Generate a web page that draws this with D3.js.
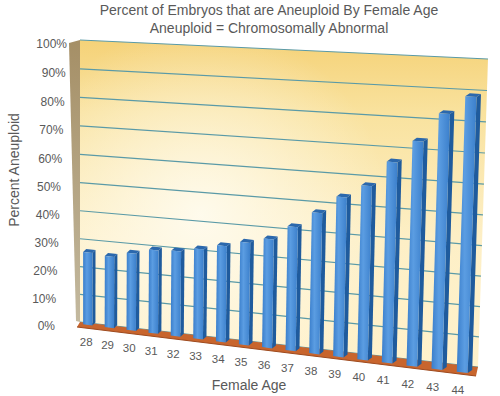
<!DOCTYPE html>
<html>
<head>
<meta charset="utf-8">
<script src="https://cdn.jsdelivr.net/npm/d3@7"></script>
<style>
  html, body { margin: 0; padding: 0; background: #fff; }
  text { font-family: "Liberation Sans", Arial, sans-serif; fill: #595959; }
</style>
</head>
<body>
<svg id="chart" width="500" height="396"></svg>
<script>
const ages = ['28', '29', '30', '31', '32', '33', '34', '35', '36', '37', '38', '39', '40', '41', '42', '43', '44'];
const aneuploidPct = [26, 25.5, 27.5, 29.5, 30, 31.5, 33.5, 35.5, 37.5, 42.5, 48, 54, 58.5, 67, 74.5, 84, 90];
const yTicks = [0, 10, 20, 30, 40, 50, 60, 70, 80, 90, 100];
const title = 'Percent of Embryos that are Aneuploid By Female Age';
const subtitle = 'Aneuploid = Chromosomally Abnormal';
const xTitle = 'Female Age';
const yTitle = 'Percent Aneuploid';

// back wall as seen in perspective: bottom-left, bottom-right, top-right, top-left
const wall = [[80, 322], [478, 367], [488, 59], [80, 40]];

// unit square -> quad (projective), so the far left is foreshortened
function squareToQuad([[x0, y0], [x1, y1], [x2, y2], [x3, y3]]) {
  const dx1 = x1 - x2, dx2 = x3 - x2, dx3 = x0 - x1 + x2 - x3;
  const dy1 = y1 - y2, dy2 = y3 - y2, dy3 = y0 - y1 + y2 - y3;
  const den = dx1 * dy2 - dx2 * dy1;
  const g = (dx3 * dy2 - dx2 * dy3) / den;
  const h = (dx1 * dy3 - dx3 * dy1) / den;
  const a = x1 - x0 + g * x1, b = x3 - x0 + h * x3, c = x0;
  const d = y1 - y0 + g * y1, e = y3 - y0 + h * y3, f = y0;
  return (u, v) => {
    const w = g * u + h * v + 1;
    return [(a * u + b * v + c) / w, (d * u + e * v + f) / w];
  };
}
const wallAt = squareToQuad(wall);

const x = d3.scaleBand().domain(ages).range([0, 1]).paddingInner(0.57).paddingOuter(0.285);
const y = d3.scaleLinear().domain([0, 100]).range([0, 1]);

// bar fronts sit a little in front of the wall
const front = (u, v) => { const p = wallAt(u, v); return [p[0] - 3, p[1] + 1.5 + 5.5 * u]; };
const depth = u => [3 + 1.5 * u, -3];
const add = (p, q) => [p[0] + q[0], p[1] + q[1]];

const svg = d3.select('#chart');
const defs = svg.append('defs');

const wallGrad = defs.append('linearGradient').attr('id', 'wallGrad')
  .attr('gradientUnits', 'userSpaceOnUse').attr('x1', 0).attr('y1', 40).attr('x2', 0).attr('y2', 370);
wallGrad.append('stop').attr('offset', 0).attr('stop-color', '#f5d278');
wallGrad.append('stop').attr('offset', 0.22).attr('stop-color', '#f9e29e');
wallGrad.append('stop').attr('offset', 0.6).attr('stop-color', '#fdefc6');
wallGrad.append('stop').attr('offset', 1).attr('stop-color', '#fff2cc');

const glow = defs.append('radialGradient').attr('id', 'glow')
  .attr('gradientUnits', 'userSpaceOnUse').attr('cx', 200).attr('cy', 215).attr('r', 190);
glow.append('stop').attr('offset', 0).attr('stop-color', '#fffdf4').attr('stop-opacity', 0.85);
glow.append('stop').attr('offset', 1).attr('stop-color', '#fffdf4').attr('stop-opacity', 0);

const sideGrad = defs.append('linearGradient').attr('id', 'sideGrad').attr('x1', 0).attr('y1', 0).attr('x2', 0).attr('y2', 1);
sideGrad.append('stop').attr('offset', 0).attr('stop-color', '#a58f66');
sideGrad.append('stop').attr('offset', 1).attr('stop-color', '#c3b99f');

const barGrad = defs.append('linearGradient').attr('id', 'barGrad').attr('x1', 0).attr('y1', 0).attr('x2', 1).attr('y2', 0);
barGrad.append('stop').attr('offset', 0).attr('stop-color', '#3a7ecb');
barGrad.append('stop').attr('offset', 0.4).attr('stop-color', '#5b9de2');
barGrad.append('stop').attr('offset', 1).attr('stop-color', '#3b7fcb');

const poly = pts => 'M' + pts.map(p => p.join(',')).join('L') + 'Z';

// side wall strip and back wall
svg.append('path')
  .attr('d', poly([add(wall[3], [-11, 3]), wall[3], wall[0], add(wall[0], [-4, -1])]))
  .attr('fill', 'url(#sideGrad)');
svg.append('path').attr('d', poly(wall)).attr('fill', 'url(#wallGrad)');
svg.append('path').attr('d', poly(wall)).attr('fill', 'url(#glow)');

svg.append('g').selectAll('line').data(yTicks).join('line')
  .attr('x1', d => wallAt(0, y(d))[0]).attr('y1', d => wallAt(0, y(d))[1])
  .attr('x2', d => wallAt(1, y(d))[0]).attr('y2', d => wallAt(1, y(d))[1])
  .attr('stroke', '#5a9aa7').attr('stroke-width', 1.2);

// floor
const fl0 = wallAt(0, 0), fl1 = wallAt(1, 0);
svg.append('path')
  .attr('d', poly([fl0, fl1, add(fl1, [-2, 9]), add(fl0, [-3, 5])]))
  .attr('fill', '#c8652d');
svg.append('line')
  .attr('x1', fl0[0] - 3).attr('y1', fl0[1] + 5).attr('x2', fl1[0] - 2).attr('y2', fl1[1] + 9)
  .attr('stroke', '#9e4a1e').attr('stroke-width', 1.2);

// bars
const bars = svg.append('g').selectAll('g').data(ages.map((a, i) => ({ age: a, value: aneuploidPct[i] }))).join('g');
bars.each(function (d) {
  const g = d3.select(this);
  const u0 = x(d.age), u1 = u0 + x.bandwidth(), v = y(d.value);
  const dep = depth(u1);
  const bl = front(u0, 0), br = front(u1, 0), tr = front(u1, v), tl = front(u0, v);
  g.append('path').attr('d', poly([br, tr, add(tr, dep), add(br, dep)])).attr('fill', '#1f5b9d');
  g.append('path').attr('d', poly([tl, tr, add(tr, dep), add(tl, dep)])).attr('fill', '#2b68ad');
  g.append('path').attr('d', poly([bl, br, tr, tl])).attr('fill', 'url(#barGrad)');
});

// category labels
svg.append('g').selectAll('text').data(ages).join('text')
  .attr('x', d => { const uc = x(d) + x.bandwidth() / 2; return front(uc, 0)[0] - 1.5 - 3 * uc; })
  .attr('y', d => { const uc = x(d) + x.bandwidth() / 2; return front(uc, 0)[1] + 17.5; })
  .attr('dy', '0.35em').attr('text-anchor', 'middle').attr('font-size', 11.5)
  .text(d => d);

// value labels
svg.append('g').selectAll('text').data(yTicks).join('text')
  .attr('x', d => wallAt(0, y(d))[0] - 13 - 12 * (1 - y(d)))
  .attr('y', d => wallAt(0, y(d))[1] + 4)
  .attr('dy', '0.35em').attr('text-anchor', 'end').attr('font-size', 12)
  .text(d => d + '%');

// titles
svg.append('text').attr('x', 269).attr('y', 15).attr('text-anchor', 'middle').attr('font-size', 14).text(title);
svg.append('text').attr('x', 269).attr('y', 33).attr('text-anchor', 'middle').attr('font-size', 14).text(subtitle);
svg.append('text').attr('x', 249).attr('y', 390).attr('text-anchor', 'middle').attr('font-size', 14).text(xTitle);
svg.append('text').attr('transform', 'translate(19,170) rotate(-90)').attr('text-anchor', 'middle').attr('font-size', 14).text(yTitle);
</script>
</body>
</html>
